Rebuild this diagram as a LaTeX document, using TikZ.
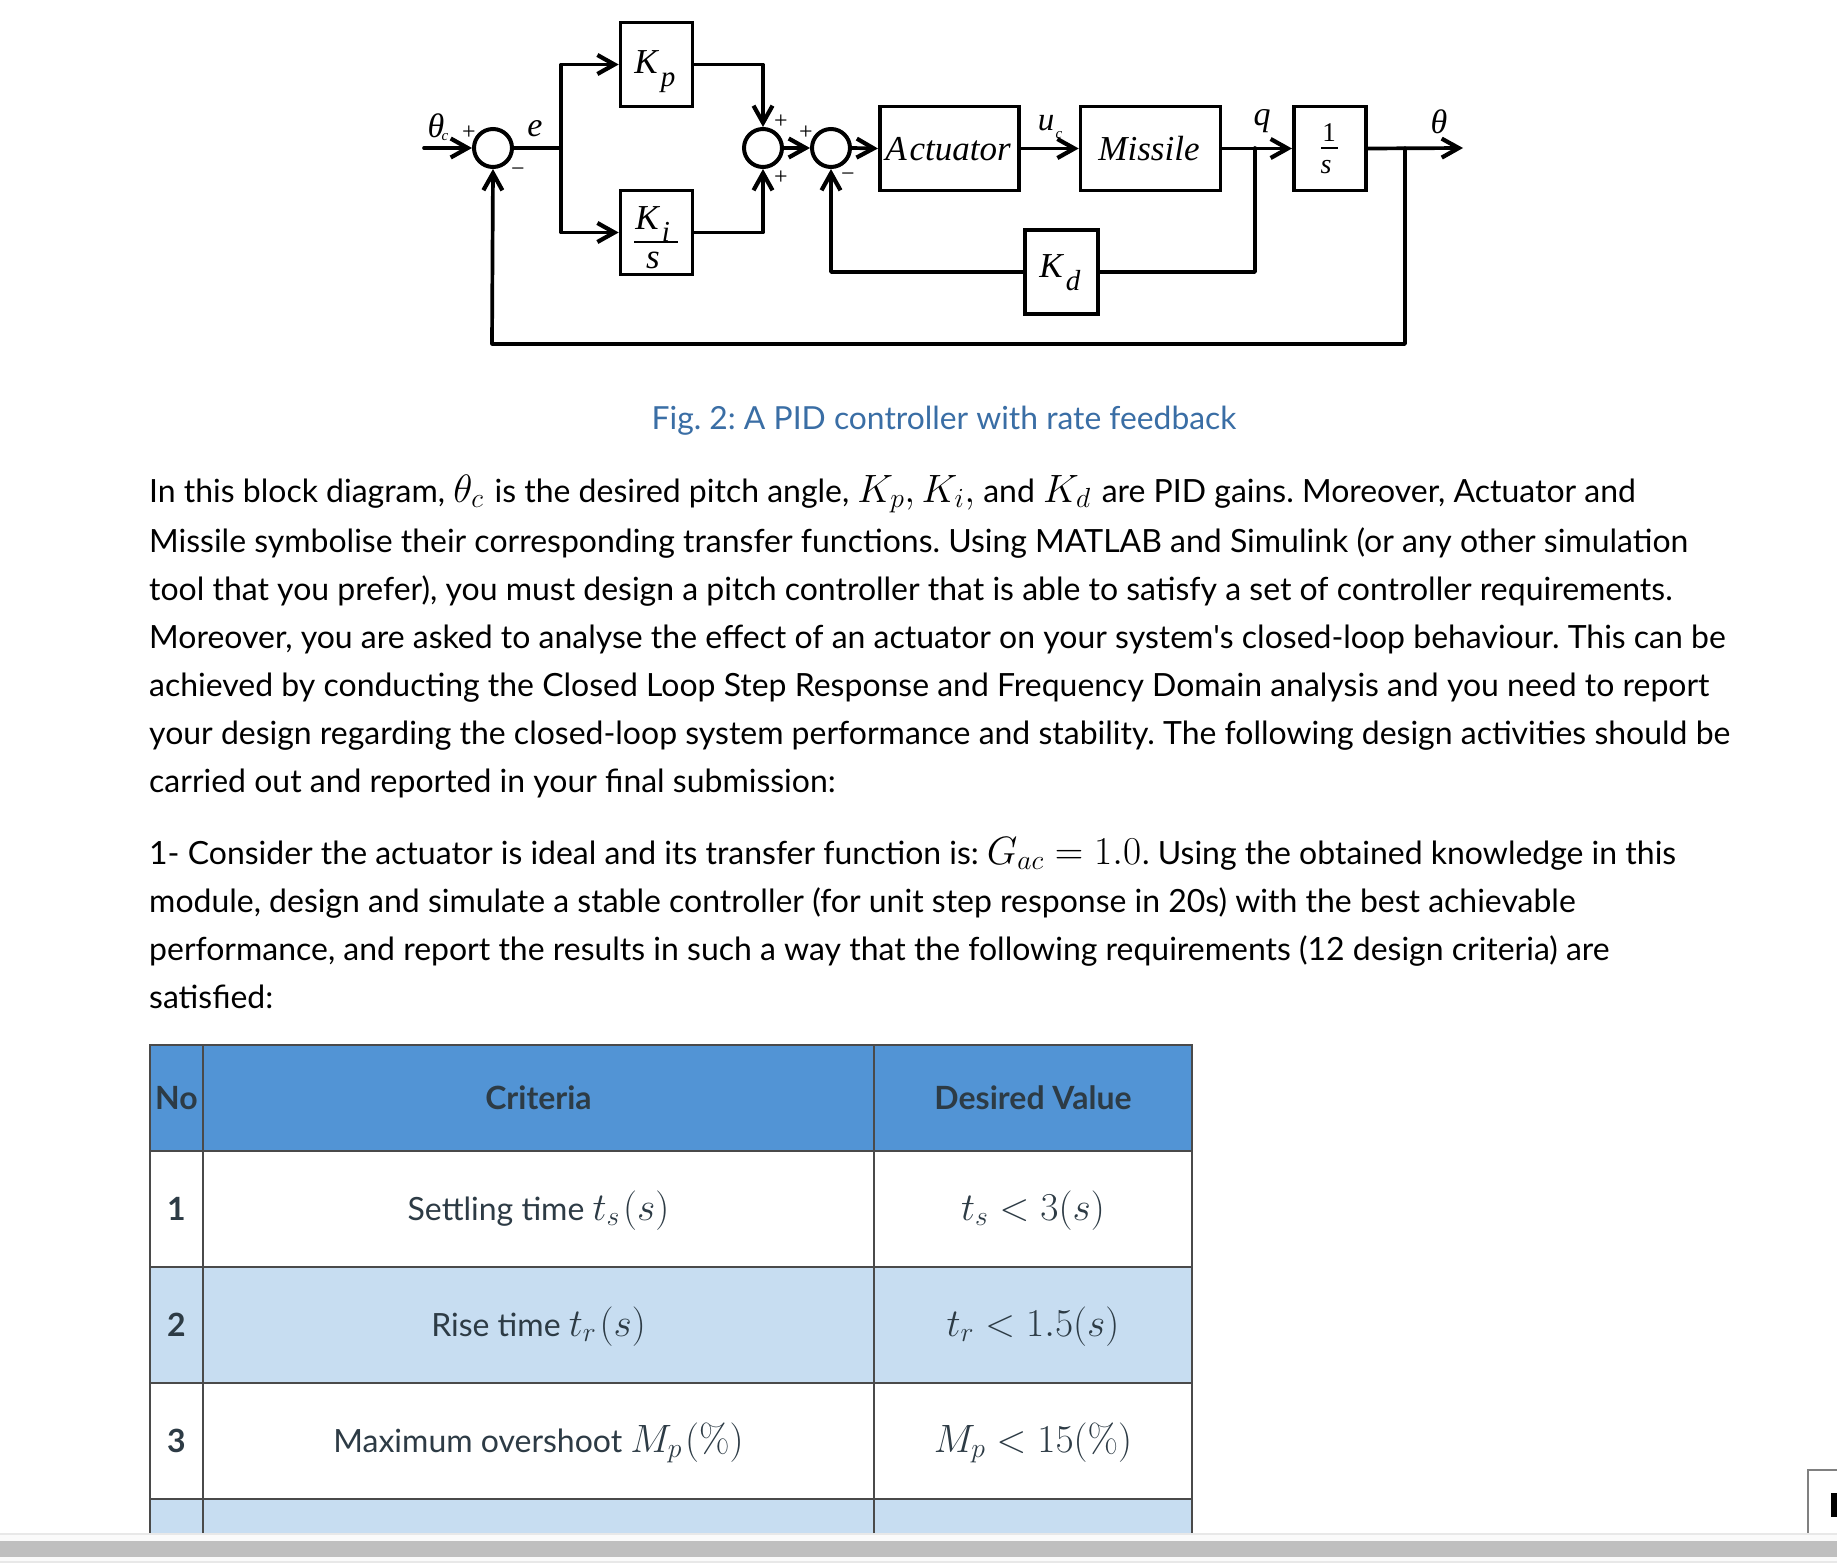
\RequirePackage{fix-cm}
\documentclass[tikz,border=0pt]{standalone}
\usepackage{fontspec}
\setmainfont{Lato}
\newfontfamily\rawlato{Lato}
\newfontfamily\diagfont{Liberation Serif}
\usetikzlibrary{arrows.meta}
\definecolor{bodytxt}{HTML}{2D3B45}
\definecolor{capblue}{HTML}{3A6EA5}
\definecolor{headblue}{HTML}{5294D5}
\definecolor{rowblue}{HTML}{C7DDF1}
\definecolor{rulegray}{HTML}{4A4A4A}
\frenchspacing
\DeclareSymbolFont{cmop}{OT1}{cmr}{m}{n}
\DeclareMathSymbol{\pct}{\mathord}{cmop}{"25}
\newcommand{\mth}[1]{{\fontsize{39.5}{40}\selectfont$#1$}}
\newcommand{\dt}[1]{\fontsize{#1}{#1}\selectfont\diagfont\itshape}
\tikzset{
  x=1pt,y=-1pt,
  flow/.style={line width=3.7pt,draw=black,line cap=round,line join=round},
  arr/.style={flow,-{Straight Barb[length=17pt,width=19pt,line width=4.2pt]}},
  blockbox/.style={draw=black,line width=3.6pt,fill=white,inner sep=0pt},
  sumcirc/.style={circle,draw=black,line width=4pt,fill=white,minimum size=38pt,inner sep=0pt},
  dlabel/.style={inner sep=0pt,text=black},
  sign/.style={inner sep=0pt,text=black,font=\fontsize{24}{24}\selectfont\diagfont},
  para/.style={inner sep=0pt,anchor=base west,text=black,font=\fontsize{31.97}{38}\selectfont},
  cell/.style={draw=rulegray,line width=1.4pt,inner sep=0pt,text=bodytxt,text height=30pt,text depth=8pt,font=\fontsize{32}{38}\selectfont},
  boldcell/.style={cell,font=\fontsize{32}{38}\selectfont\bfseries},
}
\begin{document}
\begin{tikzpicture}
\useasboundingbox (0,0) rectangle (1837,1563);
\fill[white] (0,0) rectangle (1837,1563);

% ---- block diagram
\node[sumcirc] (s1) at (493,148) {};
\node[sumcirc] (s2) at (763,148) {};
\node[sumcirc] (s3) at (831,148) {};
\node[blockbox,minimum width=72pt,minimum height=84pt] (kp) at (656.5,64.5) {};
\node[blockbox,minimum width=72pt,minimum height=84pt] (ki) at (656.5,232.5) {};
\node[blockbox,minimum width=139.5pt,minimum height=84pt] (act) at (949.5,148.5) {};
\node[blockbox,minimum width=140pt,minimum height=84pt] (mis) at (1150.5,148.5) {};
\node[blockbox,minimum width=72.5pt,minimum height=84pt] (int) at (1330,148.5) {};
\node[blockbox,minimum width=72.5pt,minimum height=84pt] (kd) at (1061.5,272) {};

\coordinate (in) at (424,148);
\coordinate (br) at (561,148);
\coordinate (qb) at (1255,148);
\coordinate (tb) at (1405,148);
\coordinate (out) at (1463,148);
\coordinate (fbc) at (492,344);

\draw[arr] (in) -- (s1.west);
\draw[flow] (s1.east) -- (br);
\draw[arr] (br) |- (kp.west);
\draw[arr] (br) |- (ki.west);
\draw[arr] (kp.east) -| (s2.north);
\draw[arr] (ki.east) -| (s2.south);
\draw[arr] (s2.east) -- (s3.west);
\draw[arr] (s3.east) -- (act.west);
\draw[arr] (act.east) -- (mis.west);
\draw[arr] (mis.east) -- (int.west);
\draw[arr] (int.east) -- (out);
\draw[flow] (qb) |- (kd.east);
\draw[arr] (kd.west) -| (s3.south);
\draw[arr] (tb) |- (fbc) -- (s1.south);

\node[dlabel,font=\dt{34}] (lth) at (436,126) {θ};
\node[dlabel,font=\dt{15}] (lthc) at (445,137) {c};
\node[sign] (p1) at (469,133) {+};
\node[sign] (m1) at (518,172) {−};
\node[dlabel,font=\dt{34}] (le) at (535,129) {e};
\node[dlabel,font=\dt{35}] (lkp) at (646,62) {K};
\node[dlabel,font=\dt{29}] (lkps) at (668,83) {p};
\node[sign] (p2) at (781,122) {+};
\node[sign] (p3) at (781,178) {+};
\node[sign] (p4) at (806,133) {+};
\node[sign] (m2) at (848,177) {−};
\node[dlabel,font=\dt{35}] (lki) at (647,218) {K};
\node[dlabel,font=\dt{29}] (lkis) at (666,232) {i};
\draw[line width=1.2pt] (634,242) coordinate (kb1) -- (678,242) coordinate (kb2);
\node[dlabel,font=\dt{35}] (lkid) at (653,260) {s};
\node[dlabel,font=\dt{35}] (tact) at (948,149) {A\kern3pt ctuator};
\node[dlabel,font=\dt{35}] (tmis) at (1149,149) {Missile};
\node[dlabel,font=\dt{33}] (lu) at (1046,123) {u};
\node[dlabel,font=\dt{15}] (luc) at (1059,135) {c};
\node[dlabel,font=\dt{34}] (lq) at (1262,121) {q};
\node[dlabel,font=\dt{34}] (lth2) at (1439,122) {θ};
\node[dlabel,font={\fontsize{27}{27}\selectfont\diagfont}] (l1) at (1329,133) {1};
\draw[line width=1.2pt] (1321,148) coordinate (ib1) -- (1338,148) coordinate (ib2);
\node[dlabel,font=\dt{28}] (ls) at (1326,167) {s};
\node[dlabel,font=\dt{35}] (lkd) at (1051,266) {K};
\node[dlabel,font=\dt{29}] (lkds) at (1073,281) {d};

% ---- caption and paragraphs
\node[inner sep=0pt,text=capblue,font=\fontsize{31.8}{38}\selectfont] (cap) at (944,421) {Fig. 2: A PID controller with rate feedback};
\node[para] (t1) at (149,502) {In this block diagram, \mth{\theta_c}\kern3pt{} is the desired pitch angle, \mth{K_p,K_i,} and \mth{K_d}\kern3pt{} are PID gains. Moreover, Actuator and};
\node[para] (t2) at (149,552) {Missile symbolise their corresponding transfer functions. Using MATLAB and Simulink (or any other simulation};
\node[para] (t3) at (149,600) {tool that you prefer), you must design a pitch controller that is able to satisfy a set of controller requirements.};
\node[para] (t4) at (149,648) {Moreover, you are asked to analyse the effect of an actuator on your system{\rawlato '}s closed-loop behaviour. This can be};
\node[para] (t5) at (149,696) {achieved by conducting the Closed Loop Step Response and Frequency Domain analysis and you need to report};
\node[para] (t6) at (149,744) {your design regarding the closed-loop system performance and stability. The following design activities should be};
\node[para] (t7) at (149,792) {carried out and reported in your final submission:};
\node[para] (t8) at (149,864) {1- Consider the actuator is ideal and its transfer function is: \mth{G_{ac}=1.0}\kern1pt. Using the obtained knowledge in this};
\node[para] (t9) at (149,912) {module, design and simulate a stable controller (for unit step response in 20s) with the best achievable};
\node[para] (t10) at (149,960) {performance, and report the results in such a way that the following requirements (12 design criteria) are};
\node[para] (t11) at (149,1008) {satisfied:};

% ---- table
\begin{scope}
\clip (0,0) rectangle (1837,1533);
\node[boldcell,fill=headblue,minimum width=53pt,minimum height=106pt] (h1) at (176.5,1098) {No};
\node[boldcell,fill=headblue,minimum width=671pt,minimum height=106pt] (h2) at (538.5,1098) {Criteria};
\node[boldcell,fill=headblue,minimum width=318pt,minimum height=106pt] (h3) at (1033,1098) {Desired Value};
\node[boldcell,fill=white,minimum width=53pt,minimum height=116pt] (a1) at (176.5,1209) {1};
\node[cell,fill=white,minimum width=671pt,minimum height=116pt] (a2) at (538.5,1209) {Settling time \mth{t_s\mkern1.5mu(s)}};
\node[cell,fill=white,minimum width=318pt,minimum height=116pt] (a3) at (1033,1209) {\mth{t_s<3(s)}};
\node[boldcell,fill=rowblue,minimum width=53pt,minimum height=116pt] (b1) at (176.5,1325) {2};
\node[cell,fill=rowblue,minimum width=671pt,minimum height=116pt] (b2) at (538.5,1325) {Rise time \mth{t_r\mkern1.5mu(s)}};
\node[cell,fill=rowblue,minimum width=318pt,minimum height=116pt] (b3) at (1033,1325) {\mth{t_r<1.5(s)}};
\node[boldcell,fill=white,minimum width=53pt,minimum height=116pt] (c1) at (176.5,1441) {3};
\node[cell,fill=white,minimum width=671pt,minimum height=116pt] (c2) at (538.5,1441) {Maximum overshoot \mth{M_p\mkern1.5mu(\pct)}};
\node[cell,fill=white,minimum width=318pt,minimum height=116pt] (c3) at (1033,1441) {\mth{M_p<15(\pct)}};
\node[cell,fill=rowblue,minimum width=53pt,minimum height=116pt] (d1) at (176.5,1557) {};
\node[cell,fill=rowblue,minimum width=671pt,minimum height=116pt] (d2) at (538.5,1557) {};
\node[cell,fill=rowblue,minimum width=318pt,minimum height=116pt] (d3) at (1033,1557) {};
% corner box at right edge
\draw[draw=gray,line width=2pt] (1837,1470) -- (1808,1470) -- (1808,1533);
\fill[black] (1831,1493) rectangle (1837,1517);
\end{scope}

% ---- scrollbar strip
\fill[black!9] (0,1533) rectangle (1837,1563);
\fill[black!2] (0,1535) rectangle (1837,1561);
\fill[black!25] (0,1541) rectangle (1837,1557);
\end{tikzpicture}
\end{document}
